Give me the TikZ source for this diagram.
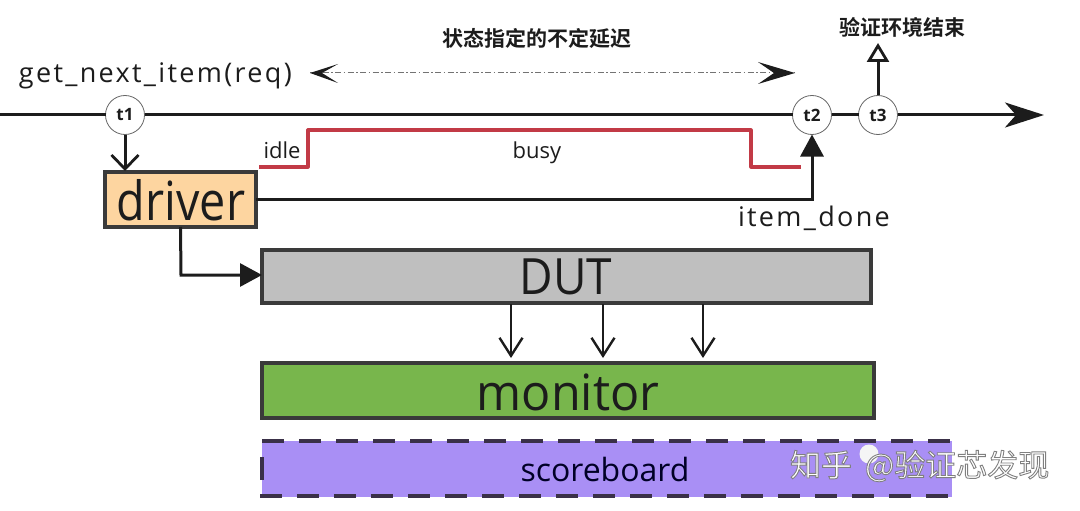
\documentclass[tikz,border=0pt]{standalone}
\usepackage{fontspec}
\setmainfont{Open Sans}
\newfontfamily\spacedfont[LetterSpace=8.6]{Open Sans}
\newfontfamily\cjkfont[BoldFont=Noto Sans CJK SC Bold]{Noto Sans CJK SC}
\usetikzlibrary{arrows.meta}
\definecolor{ink}{HTML}{1C1C1C}
\definecolor{boxline}{HTML}{3A3A3A}
\definecolor{redline}{HTML}{C23A46}
\definecolor{driverfill}{HTML}{FDD5A0}
\definecolor{dutfill}{HTML}{BFBFBF}
\definecolor{monfill}{HTML}{78B64C}
\definecolor{scorefill}{HTML}{A98FF5}
\definecolor{scoreline}{HTML}{3A3048}
\tikzset{
  x=1pt,y=-1pt,
  every node/.style={inner sep=0pt,outer sep=0pt,text=ink},
  tick/.style={draw=gray!80!black,line width=0.8pt,fill=white,circle,minimum size=39pt,font=\fontsize{17}{17}\selectfont\bfseries},
  block/.style={draw=boxline,line width=3.6pt,anchor=north west},
  axisline/.style={draw=ink,line width=3pt},
  wire/.style={draw=ink,line width=3pt},
  openhead/.style={-{Straight Barb[length=14pt,width=27pt,line width=2.8pt]}},
  thinhead/.style={-{Straight Barb[length=18pt,width=23pt,line width=2.4pt]}},
  solidhead/.style={-{Triangle[length=22pt,width=23pt]}},
  hollowhead/.style={-{Triangle[open,length=19pt,width=22pt,line width=2.8pt,fill=white]}},
  bigstealth/.style={-{Stealth[length=39pt,width=25pt,inset=11pt]}},
  cjklabel/.style={font=\fontsize{21}{21}\selectfont\cjkfont\bfseries},
  spaced/.style={font=\fontsize{27}{27}\selectfont\spacedfont},
  small/.style={font=\fontsize{22}{22}\selectfont},
  scoredash/.style={draw=scoreline,line width=3.6pt,dash pattern=on 22pt off 15pt},
  markfont/.style={font=\fontsize{31}{31}\selectfont\cjkfont},
}
\begin{document}
\begin{tikzpicture}
\useasboundingbox (0,0) rectangle (1080,511);
% axis
\coordinate (axisL) at (0,115);
\coordinate (axisR) at (1044,115);
\node[tick] (t1) at (125,115) {t1};
\node[tick] (t2) at (812,115) {t2};
\node[tick] (t3) at (878,115) {t3};
\draw[axisline] (axisL) -- (t1);
\draw[axisline] (t1) -- (t2);
\draw[axisline] (t2) -- (t3);
\draw[axisline,bigstealth] (t3) -- (axisR);
% blocks
\node[block,fill=driverfill,minimum width=151pt,minimum height=55pt] (driver) at (105,172) {};
\node[font=\fontsize{54}{54}\selectfont] (drivertext) at (181,200) {\scalebox{.865}[1]{driver}};
\node[block,fill=dutfill,minimum width=609pt,minimum height=53pt] (dut) at (262,250) {};
\node[font=\fontsize{50}{50}\selectfont] (duttext) at (566,277) {\scalebox{.92}[1]{DUT}};
\node[block,fill=monfill,minimum width=612pt,minimum height=55pt] (monitor) at (262,363) {};
\node[font=\fontsize{50}{50}\selectfont] (montext) at (568,392) {\scalebox{.97}[1]{monitor}};
% scoreboard
\fill[scorefill] (262,441) rectangle (952,497);
\draw[scoredash] (262,441) -- (952,441);
\draw[scoredash] (260,496) -- (952,496);
\draw[draw=scoreline,line width=3.6pt] (262,457) -- (262,480);
\node[font=\fontsize{32}{32}\selectfont,text=black!85!blue] (score) at (605,469) {scoreboard};
% connectors
\draw[wire,openhead] (t1) -- (125,171);
\coordinate (doneturn) at (812,199);
\draw[wire,line join=miter,solidhead] (driver.east |- 0,199) -- (doneturn) -- (t2.south);
\coordinate (dutturn) at (181,275);
\draw[wire,line join=miter,solidhead] (driver.south) -- (dutturn) -- (dut.west |- 0,275);
\draw[axisline,hollowhead] (t3.north) -- (878,43);
\foreach \xx/\nn in {511/a,603/b,703/c}{
  \coordinate (mon\nn) at (\xx,358);
  \draw[wire,line width=2.4pt,thinhead] (\xx,304) -- (mon\nn);
}
% red level
\coordinate (r0) at (259,167);
\coordinate (r1) at (308,167);
\coordinate (r2) at (308,130);
\coordinate (r3) at (751,130);
\coordinate (r4) at (751,167);
\coordinate (r5) at (801,167);
\draw[draw=redline,line width=3.2pt,line join=round] (r0) -- (r1) -- (r2) -- (r3) -- (r4) -- (r5);
% delay arrow
\coordinate (delayL) at (310,73);
\coordinate (delayR) at (795,73);
\draw[gray!90!black,line width=1pt,dash pattern=on 6pt off 2.5pt on 1.5pt off 2.5pt] (delayL) -- (delayR);
\fill[ink] (310,73) -- (338,64) -- (322,73) -- (338,83) -- cycle;
\fill[ink] (795,73) -- (758,62) -- (774,73) -- (758,84) -- cycle;
% labels
\node[spaced,anchor=base west] (gni) at (19,83) {get\_next\_item(req)};
\node[spaced,anchor=base west] (idone) at (738,226) {item\_done};
\node[small,anchor=base] (idle) at (282,158) {idle};
\node[small,anchor=base] (busy) at (537,158) {busy};
\node[cjklabel] (delay) at (537,38) {状态指定的不定延迟};
\node[cjklabel] (endenv) at (902,27) {验证环境结束};
% watermark
\fill[white!92!gray] (869,454) circle (9.5pt);
\node[markfont,text=white,anchor=west] (mark) at (790,466) {\special{pdf:code 2 Tr 0.9 w 0.5 G}知乎\hspace{13pt}@验证芯发现\special{pdf:code 0 Tr}};
\end{tikzpicture}
\end{document}
